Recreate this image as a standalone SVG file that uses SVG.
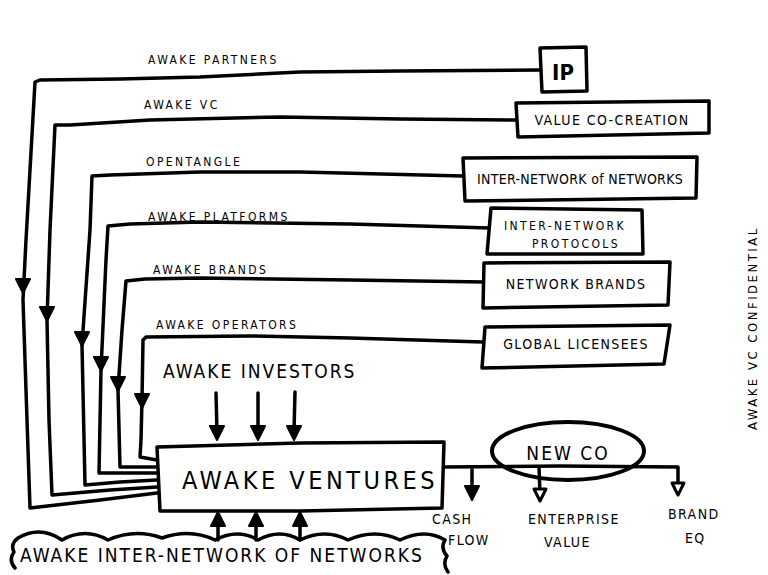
<svg xmlns="http://www.w3.org/2000/svg" width="768" height="575" viewBox="0 0 768 575">
<style>
.ln{fill:none;stroke:#000;stroke-width:3.5;stroke-linecap:round;stroke-linejoin:round}
.bx{fill:#fff;stroke:#000;stroke-width:3.5;stroke-linejoin:round}
.t{font-family:"DejaVu Sans Condensed","DejaVu Sans",sans-serif;fill:#000}
.s{font-size:12px;letter-spacing:2.4px}
.m{font-size:14px;letter-spacing:1.4px}
.l{font-size:19px;letter-spacing:2px}
</style>
<defs>
<path id="ah" d="M-7,-13 L7,-13 L0,1 Z" fill="#000" stroke="#000" stroke-width="2" stroke-linejoin="round"/>
<path id="ahh" d="M-6,-11 L6,-11 L0,1 Z" fill="#fff" stroke="#000" stroke-width="3" stroke-linejoin="round"/>
</defs>
<rect width="768" height="575" fill="#fff"/>

<g id="connectors">
<path class="ln" d="M540,70 L400,71 L300,72 L200,77 L120,79 L40,80 L35,82 L26,240 L23,300 L27,420 L30,508 L100,500 L157,493"/>
<path class="ln" d="M516,120 L400,119 L280,117 L150,120 L70,125 L55,125 L50,230 L47,320 L49,420 L52,495 L110,490 L157,487"/>
<path class="ln" d="M463,176 L300,172 L200,172 L110,175 L92,176 L90,230 L82,345 L85,485 L120,482 L157,480"/>
<path class="ln" d="M490,228 L350,224 L200,222 L130,224 L108,226 L106,260 L101,370 L99,473 L157,473"/>
<path class="ln" d="M485,282 L350,280 L200,278 L145,279 L126,281 L122,330 L118,390 L120,467 L157,467"/>
<path class="ln" d="M483,342 L350,338 L250,336 L146,337 L143,340 L142,400 L141,440 L140,457 L157,460"/>
<path class="ln" d="M216,393 L217,432 M258,393 L258,432 M295,392 L294,432"/>
<path class="ln" d="M218,540 L218,518 M256,540 L256,518 M300,540 L300,518"/>
<path class="ln" d="M443,467 L560,466 L678,467 L678,488 M472,467 L472,494 M539,467 L540,494"/>
<use href="#ah" x="23" y="292"/>
<use href="#ah" x="47" y="320"/>
<use href="#ah" x="82" y="345"/>
<use href="#ah" x="101" y="370"/>
<use href="#ah" x="118" y="390"/>
<use href="#ah" x="142" y="407"/>
<use href="#ah" x="217" y="439"/>
<use href="#ah" x="258" y="439"/>
<use href="#ah" x="294" y="439"/>
<use href="#ah" x="472" y="499"/>
<use href="#ahh" x="540" y="500"/>
<use href="#ahh" x="678" y="494"/>
<path d="M211,526 L218,512 L225,526 Z M249,526 L256,512 L263,526 Z M293,526 L300,512 L307,526 Z" fill="#000" stroke="#000" stroke-width="2" stroke-linejoin="round"/>
</g>

<g id="labels">
<text class="t s" x="148" y="64">AWAKE PARTNERS</text>
<text class="t s" x="144" y="109">AWAKE VC</text>
<text class="t s" x="146" y="166">OPENTANGLE</text>
<text class="t s" x="148" y="221">AWAKE PLATFORMS</text>
<text class="t s" x="153" y="274">AWAKE BRANDS</text>
<text class="t s" x="156" y="329">AWAKE OPERATORS</text>
</g>

<g id="ip">
<path class="bx" d="M540,48 L586,47 L587,91 L542,92 Z"/>
<text class="t" x="563" y="80" font-size="22" text-anchor="middle" font-weight="bold">IP</text>
</g>
<g id="value-co-creation">
<path class="bx" d="M516,103 L709,101 L709,133 L518,137 Z"/>
<text class="t m" x="612" y="125" text-anchor="middle">VALUE CO-CREATION</text>
</g>
<g id="inter-network-of-networks">
<path class="bx" d="M463,158 L697,157 L696,198 L465,201 Z"/>
<text class="t" x="580" y="184" text-anchor="middle" font-size="14" letter-spacing="0.3">INTER-NETWORK of NETWORKS</text>
</g>
<g id="inter-network-protocols">
<path class="bx" d="M491,208 L642,210 L643,254 L487,254 Z"/>
<text class="t s" x="565" y="230" text-anchor="middle" letter-spacing="1.5">INTER-NETWORK</text>
<text class="t s" x="576" y="248" text-anchor="middle" letter-spacing="1.5">PROTOCOLS</text>
</g>
<g id="network-brands">
<path class="bx" d="M484,263 L670,262 L668,305 L483,308 Z"/>
<text class="t m" x="576" y="289" text-anchor="middle">NETWORK BRANDS</text>
</g>
<g id="global-licensees">
<path class="bx" d="M485,327 L670,325 L664,364 L482,368 Z"/>
<text class="t m" x="576" y="349" text-anchor="middle">GLOBAL LICENSEES</text>
</g>

<g id="awake-investors">
<text class="t l" x="163" y="378">AWAKE INVESTORS</text>
</g>

<g id="awake-ventures">
<path class="bx" d="M157,447 L300,443 L444,442 L442,508 L300,511 L160,511 Z"/>
<text class="t" x="310" y="489" font-size="25" letter-spacing="3.5" text-anchor="middle">AWAKE VENTURES</text>
</g>

<g id="new-co">
<ellipse cx="568" cy="451" rx="76" ry="29" fill="none" stroke="#000" stroke-width="4"/>
<text class="t l" x="568" y="460" text-anchor="middle">NEW CO</text>
</g>

<g id="awake-inter-network-of-networks">
<path class="ln" d="M15,568 Q8,560 14,552 Q10,544 18,538 Q40,525 62,540 Q85,527 108,540 Q135,528 162,538 Q190,528 215,540 Q238,528 258,540 Q280,528 300,540 Q325,528 348,540 Q375,528 400,540 Q425,528 445,540 Q440,548 447,556 Q442,564 448,572"/>
<text class="t l" x="20" y="562" letter-spacing="1.2">AWAKE INTER-NETWORK OF NETWORKS</text>
</g>

<g id="cash-flow">
<text class="t m" x="432" y="524">CASH</text>
<text class="t m" x="448" y="545">FLOW</text>
</g>
<g id="enterprise-value">
<text class="t m" x="528" y="524">ENTERPRISE</text>
<text class="t m" x="544" y="547">VALUE</text>
</g>
<g id="brand-eq">
<text class="t m" x="668" y="519">BRAND</text>
<text class="t m" x="685" y="543">EQ</text>
</g>

<g id="confidential">
<text class="t" font-size="13" letter-spacing="2.5" transform="translate(757,430) rotate(-90)">AWAKE VC CONFIDENTIAL</text>
</g>
</svg>
